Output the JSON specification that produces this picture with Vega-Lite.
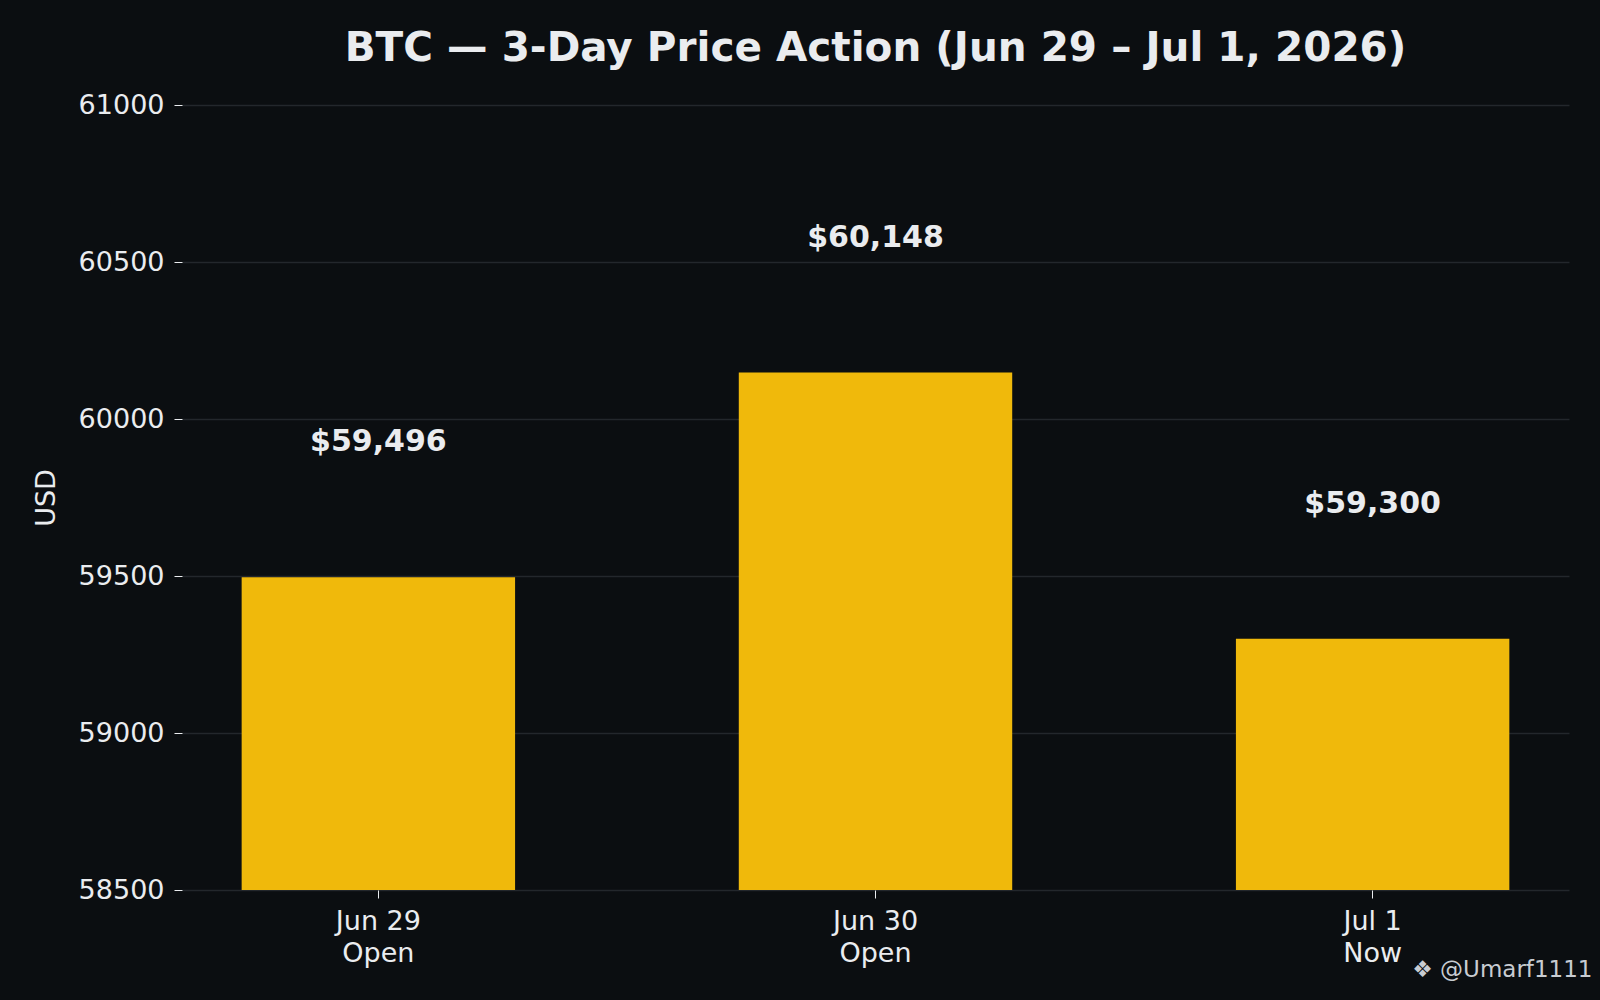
{
  "$schema": "https://vega.github.io/schema/vega-lite/v6.json",
  "autosize": {"type": "none"},
  "padding": {"left": 182, "top": 105, "right": 31, "bottom": 110},
  "width": 1387,
  "height": 785,
  "background": "#0b0e11",
  "title": {
    "text": "BTC — 3-Day Price Action (Jun 29 – Jul 1, 2026)",
    "font": "DejaVu Sans",
    "fontSize": 40.5,
    "fontWeight": "bold",
    "color": "#eaecef",
    "offset": 22,
    "anchor": "middle"
  },
  "config": {
    "view": {"stroke": null},
    "font": "DejaVu Sans",
    "axis": {
      "labelFont": "DejaVu Sans",
      "labelFontSize": 27,
      "labelColor": "#eaecef",
      "titleFont": "DejaVu Sans",
      "titleColor": "#eaecef",
      "titleFontWeight": "normal",
      "domain": false,
      "tickColor": "#eaecef",
      "tickSize": 8
    }
  },
  "data": {
    "values": [
      {"day": "Jun 29\nOpen", "price": 59496, "label": "$59,496"},
      {"day": "Jun 30\nOpen", "price": 60148, "label": "$60,148"},
      {"day": "Jul 1\nNow", "price": 59300, "label": "$59,300"}
    ]
  },
  "encoding": {
    "x": {
      "field": "day",
      "type": "nominal",
      "sort": null,
      "scale": {"paddingInner": 0.45, "paddingOuter": 0.12},
      "axis": {
        "labelAngle": 0,
        "labelExpr": "split(datum.value, '\\n')",
        "labelPadding": 10,
        "labelLineHeight": 32,
        "grid": false,
        "title": "❖ @Umarf1111",
        "titleAnchor": "end",
        "titleAlign": "right",
        "titleFontSize": 23,
        "titleColor": "#c8ccd2",
        "titlePadding": -8,
        "titleX": 1410
      }
    },
    "y": {
      "field": "price",
      "type": "quantitative",
      "scale": {"domain": [58500, 61000], "zero": false, "nice": false},
      "axis": {
        "values": [58500, 59000, 59500, 60000, 60500, 61000],
        "format": "d",
        "title": "USD",
        "titleFontSize": 27,
        "titlePadding": 18,
        "gridColor": "#23272c",
        "gridWidth": 1.5,
        "labelPadding": 10
      }
    }
  },
  "layer": [
    {"mark": {"type": "bar", "color": "#f0b90b", "clip": true}, "encoding": {"y2": {"datum": 58500}}},
    {
      "mark": {"type": "text", "dy": -135, "baseline": "middle", "fontSize": 30, "fontWeight": "bold", "color": "#eaecef"},
      "encoding": {"text": {"field": "label"}}
    }
  ]
}
